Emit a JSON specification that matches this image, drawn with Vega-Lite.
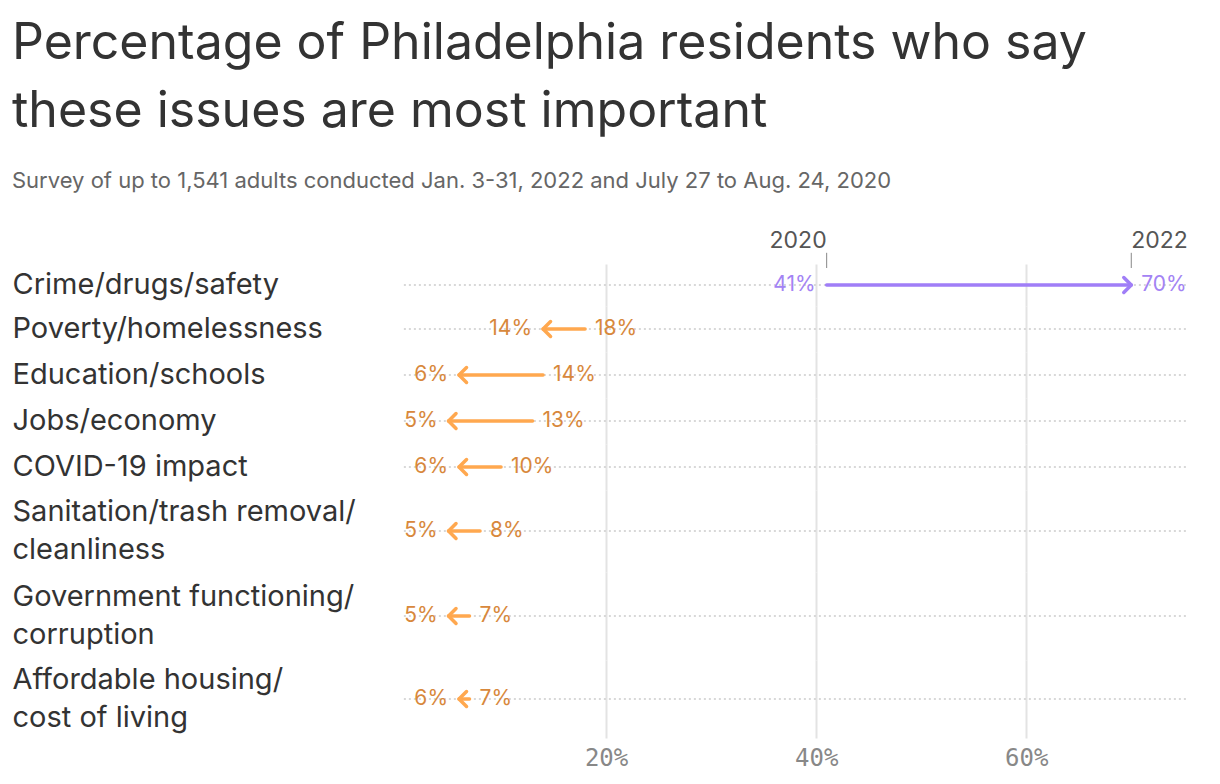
{
  "$schema": "https://vega.github.io/schema/vega-lite/v6.json",
  "padding": {"left": 12, "top": 19, "right": 20, "bottom": 4},
  "title": {
    "text": ["Percentage of Philadelphia residents who say", "these issues are most important"],
    "subtitle": "Survey of up to 1,541 adults conducted Jan. 3-31, 2022 and July 27 to Aug. 24, 2020",
    "anchor": "start",
    "font": "Inter",
    "fontSize": 50,
    "fontWeight": "normal",
    "color": "#333333",
    "lineHeight": 68,
    "subtitleFont": "Inter",
    "subtitleFontSize": 22,
    "subtitleColor": "#666666",
    "subtitlePadding": 34,
    "offset": 32
  },
  "data": {
    "values": [
      {"issue": "Crime/drugs/safety", "y2020": 41, "y2022": 70},
      {"issue": "Poverty/homelessness", "y2020": 18, "y2022": 14},
      {"issue": "Education/schools", "y2020": 14, "y2022": 6},
      {"issue": "Jobs/economy", "y2020": 13, "y2022": 5},
      {"issue": "COVID-19 impact", "y2020": 10, "y2022": 6},
      {"issue": "Sanitation/trash removal/cleanliness", "y2020": 8, "y2022": 5},
      {"issue": "Government functioning/corruption", "y2020": 7, "y2022": 5},
      {"issue": "Affordable housing/cost of living", "y2020": 7, "y2022": 6}
    ]
  },
  "spacing": 0,
  "bounds": "flush",
  "vconcat": [
    {
      "height": 40,
      "transform": [{"filter": "datum.issue == 'Crime/drugs/safety'"}],
      "layer": [
        {
          "mark": {"type": "text", "align": "right", "color": "#555555", "fontSize": 23},
          "encoding": {
            "x": {"field": "y2020", "type": "quantitative", "scale": {"domain": [0, 75.4], "nice": false, "zero": false}, "axis": null},
            "y": {"datum": 0.575, "type": "quantitative", "scale": {"domain": [0, 1]}, "axis": null},
            "text": {"value": "2020"}
          }
        },
        {
          "mark": {"type": "text", "align": "left", "color": "#555555", "fontSize": 23},
          "encoding": {
            "x": {"field": "y2022", "type": "quantitative", "axis": null},
            "y": {"datum": 0.575, "type": "quantitative", "axis": null},
            "text": {"value": "2022"}
          }
        },
        {
          "transform": [{"fold": ["y2020", "y2022"], "as": ["year", "pct"]}],
          "mark": {"type": "rule", "color": "#888888", "strokeWidth": 1},
          "encoding": {
            "x": {"field": "pct", "type": "quantitative", "axis": null},
            "y": {"datum": 0.28, "type": "quantitative", "axis": null},
            "y2": {"datum": -0.1}
          }
        }
      ]
    },
    {
      "height": 42,
      "transform": [{"filter": "datum.issue == 'Crime/drugs/safety'"}],
      "encoding": {"y": {"field": "issue", "type": "nominal"}},
      "layer": [
        {"mark": {"type": "rule", "color": "#cccccc", "strokeDash": [2, 3], "strokeWidth": 1.5},
         "encoding": {"x": {"datum": 0.75, "type": "quantitative", "scale": {"domain": [0, 75.4], "nice": false, "zero": false}, "axis": {"values": [20, 40, 60]}}, "x2": {"datum": 75.4}}},
        {"mark": {"type": "rule", "strokeWidth": 3.5, "strokeCap": "round"},
         "encoding": {"x": {"field": "y2020", "type": "quantitative"}, "x2": {"field": "y2022"},
           "color": {"condition": {"test": "datum.y2022 > datum.y2020", "value": "#a07ef7"}, "value": "#ffa84f"}}},
        {"mark": {"type": "point"},
         "encoding": {"x": {"field": "y2022", "type": "quantitative"},
           "angle": {"condition": {"test": "datum.y2022 < datum.y2020", "value": 180}, "value": 0},
           "color": {"condition": {"test": "datum.y2022 > datum.y2020", "value": "#a07ef7"}, "value": "#ffa84f"}}},
        {"transform": [{"fold": ["y2020", "y2022"], "as": ["year", "pct"]}, {"filter": "(datum.year == 'y2020') == (datum.y2022 < datum.y2020)"}, {"calculate": "datum.pct + '%'", "as": "label"}],
         "mark": {"type": "text", "align": "left", "dx": 10},
         "encoding": {"x": {"field": "pct", "type": "quantitative"}, "text": {"field": "label"},
           "color": {"condition": {"test": "datum.y2022 > datum.y2020", "value": "#a383f4"}, "value": "#d8883c"}}},
        {"transform": [{"fold": ["y2020", "y2022"], "as": ["year", "pct"]}, {"filter": "(datum.year == 'y2020') != (datum.y2022 < datum.y2020)"}, {"calculate": "datum.pct + '%'", "as": "label"}],
         "mark": {"type": "text", "align": "right", "dx": -11},
         "encoding": {"x": {"field": "pct", "type": "quantitative"}, "text": {"field": "label"},
           "color": {"condition": {"test": "datum.y2022 > datum.y2020", "value": "#a383f4"}, "value": "#d8883c"}}}
      ]
    },
    {
      "height": 46,
      "transform": [{"filter": "datum.issue == 'Poverty/homelessness'"}],
      "encoding": {"y": {"field": "issue", "type": "nominal"}},
      "layer": [
        {"mark": {"type": "rule", "color": "#cccccc", "strokeDash": [2, 3], "strokeWidth": 1.5},
         "encoding": {"x": {"datum": 0.75, "type": "quantitative", "scale": {"domain": [0, 75.4], "nice": false, "zero": false}, "axis": {"values": [20, 40, 60]}}, "x2": {"datum": 75.4}}},
        {"mark": {"type": "rule", "strokeWidth": 3.5, "strokeCap": "round"},
         "encoding": {"x": {"field": "y2020", "type": "quantitative"}, "x2": {"field": "y2022"},
           "color": {"condition": {"test": "datum.y2022 > datum.y2020", "value": "#a07ef7"}, "value": "#ffa84f"}}},
        {"mark": {"type": "point"},
         "encoding": {"x": {"field": "y2022", "type": "quantitative"},
           "angle": {"condition": {"test": "datum.y2022 < datum.y2020", "value": 180}, "value": 0},
           "color": {"condition": {"test": "datum.y2022 > datum.y2020", "value": "#a07ef7"}, "value": "#ffa84f"}}},
        {"transform": [{"fold": ["y2020", "y2022"], "as": ["year", "pct"]}, {"filter": "(datum.year == 'y2020') == (datum.y2022 < datum.y2020)"}, {"calculate": "datum.pct + '%'", "as": "label"}],
         "mark": {"type": "text", "align": "left", "dx": 10},
         "encoding": {"x": {"field": "pct", "type": "quantitative"}, "text": {"field": "label"},
           "color": {"condition": {"test": "datum.y2022 > datum.y2020", "value": "#a383f4"}, "value": "#d8883c"}}},
        {"transform": [{"fold": ["y2020", "y2022"], "as": ["year", "pct"]}, {"filter": "(datum.year == 'y2020') != (datum.y2022 < datum.y2020)"}, {"calculate": "datum.pct + '%'", "as": "label"}],
         "mark": {"type": "text", "align": "right", "dx": -11},
         "encoding": {"x": {"field": "pct", "type": "quantitative"}, "text": {"field": "label"},
           "color": {"condition": {"test": "datum.y2022 > datum.y2020", "value": "#a383f4"}, "value": "#d8883c"}}}
      ]
    },
    {
      "height": 46,
      "transform": [{"filter": "datum.issue == 'Education/schools'"}],
      "encoding": {"y": {"field": "issue", "type": "nominal"}},
      "layer": [
        {"mark": {"type": "rule", "color": "#cccccc", "strokeDash": [2, 3], "strokeWidth": 1.5},
         "encoding": {"x": {"datum": 0.75, "type": "quantitative", "scale": {"domain": [0, 75.4], "nice": false, "zero": false}, "axis": {"values": [20, 40, 60]}}, "x2": {"datum": 75.4}}},
        {"mark": {"type": "rule", "strokeWidth": 3.5, "strokeCap": "round"},
         "encoding": {"x": {"field": "y2020", "type": "quantitative"}, "x2": {"field": "y2022"},
           "color": {"condition": {"test": "datum.y2022 > datum.y2020", "value": "#a07ef7"}, "value": "#ffa84f"}}},
        {"mark": {"type": "point"},
         "encoding": {"x": {"field": "y2022", "type": "quantitative"},
           "angle": {"condition": {"test": "datum.y2022 < datum.y2020", "value": 180}, "value": 0},
           "color": {"condition": {"test": "datum.y2022 > datum.y2020", "value": "#a07ef7"}, "value": "#ffa84f"}}},
        {"transform": [{"fold": ["y2020", "y2022"], "as": ["year", "pct"]}, {"filter": "(datum.year == 'y2020') == (datum.y2022 < datum.y2020)"}, {"calculate": "datum.pct + '%'", "as": "label"}],
         "mark": {"type": "text", "align": "left", "dx": 10},
         "encoding": {"x": {"field": "pct", "type": "quantitative"}, "text": {"field": "label"},
           "color": {"condition": {"test": "datum.y2022 > datum.y2020", "value": "#a383f4"}, "value": "#d8883c"}}},
        {"transform": [{"fold": ["y2020", "y2022"], "as": ["year", "pct"]}, {"filter": "(datum.year == 'y2020') != (datum.y2022 < datum.y2020)"}, {"calculate": "datum.pct + '%'", "as": "label"}],
         "mark": {"type": "text", "align": "right", "dx": -11},
         "encoding": {"x": {"field": "pct", "type": "quantitative"}, "text": {"field": "label"},
           "color": {"condition": {"test": "datum.y2022 > datum.y2020", "value": "#a383f4"}, "value": "#d8883c"}}}
      ]
    },
    {
      "height": 46,
      "transform": [{"filter": "datum.issue == 'Jobs/economy'"}],
      "encoding": {"y": {"field": "issue", "type": "nominal"}},
      "layer": [
        {"mark": {"type": "rule", "color": "#cccccc", "strokeDash": [2, 3], "strokeWidth": 1.5},
         "encoding": {"x": {"datum": 0.75, "type": "quantitative", "scale": {"domain": [0, 75.4], "nice": false, "zero": false}, "axis": {"values": [20, 40, 60]}}, "x2": {"datum": 75.4}}},
        {"mark": {"type": "rule", "strokeWidth": 3.5, "strokeCap": "round"},
         "encoding": {"x": {"field": "y2020", "type": "quantitative"}, "x2": {"field": "y2022"},
           "color": {"condition": {"test": "datum.y2022 > datum.y2020", "value": "#a07ef7"}, "value": "#ffa84f"}}},
        {"mark": {"type": "point"},
         "encoding": {"x": {"field": "y2022", "type": "quantitative"},
           "angle": {"condition": {"test": "datum.y2022 < datum.y2020", "value": 180}, "value": 0},
           "color": {"condition": {"test": "datum.y2022 > datum.y2020", "value": "#a07ef7"}, "value": "#ffa84f"}}},
        {"transform": [{"fold": ["y2020", "y2022"], "as": ["year", "pct"]}, {"filter": "(datum.year == 'y2020') == (datum.y2022 < datum.y2020)"}, {"calculate": "datum.pct + '%'", "as": "label"}],
         "mark": {"type": "text", "align": "left", "dx": 10},
         "encoding": {"x": {"field": "pct", "type": "quantitative"}, "text": {"field": "label"},
           "color": {"condition": {"test": "datum.y2022 > datum.y2020", "value": "#a383f4"}, "value": "#d8883c"}}},
        {"transform": [{"fold": ["y2020", "y2022"], "as": ["year", "pct"]}, {"filter": "(datum.year == 'y2020') != (datum.y2022 < datum.y2020)"}, {"calculate": "datum.pct + '%'", "as": "label"}],
         "mark": {"type": "text", "align": "right", "dx": -11},
         "encoding": {"x": {"field": "pct", "type": "quantitative"}, "text": {"field": "label"},
           "color": {"condition": {"test": "datum.y2022 > datum.y2020", "value": "#a383f4"}, "value": "#d8883c"}}}
      ]
    },
    {
      "height": 46,
      "transform": [{"filter": "datum.issue == 'COVID-19 impact'"}],
      "encoding": {"y": {"field": "issue", "type": "nominal"}},
      "layer": [
        {"mark": {"type": "rule", "color": "#cccccc", "strokeDash": [2, 3], "strokeWidth": 1.5},
         "encoding": {"x": {"datum": 0.75, "type": "quantitative", "scale": {"domain": [0, 75.4], "nice": false, "zero": false}, "axis": {"values": [20, 40, 60]}}, "x2": {"datum": 75.4}}},
        {"mark": {"type": "rule", "strokeWidth": 3.5, "strokeCap": "round"},
         "encoding": {"x": {"field": "y2020", "type": "quantitative"}, "x2": {"field": "y2022"},
           "color": {"condition": {"test": "datum.y2022 > datum.y2020", "value": "#a07ef7"}, "value": "#ffa84f"}}},
        {"mark": {"type": "point"},
         "encoding": {"x": {"field": "y2022", "type": "quantitative"},
           "angle": {"condition": {"test": "datum.y2022 < datum.y2020", "value": 180}, "value": 0},
           "color": {"condition": {"test": "datum.y2022 > datum.y2020", "value": "#a07ef7"}, "value": "#ffa84f"}}},
        {"transform": [{"fold": ["y2020", "y2022"], "as": ["year", "pct"]}, {"filter": "(datum.year == 'y2020') == (datum.y2022 < datum.y2020)"}, {"calculate": "datum.pct + '%'", "as": "label"}],
         "mark": {"type": "text", "align": "left", "dx": 10},
         "encoding": {"x": {"field": "pct", "type": "quantitative"}, "text": {"field": "label"},
           "color": {"condition": {"test": "datum.y2022 > datum.y2020", "value": "#a383f4"}, "value": "#d8883c"}}},
        {"transform": [{"fold": ["y2020", "y2022"], "as": ["year", "pct"]}, {"filter": "(datum.year == 'y2020') != (datum.y2022 < datum.y2020)"}, {"calculate": "datum.pct + '%'", "as": "label"}],
         "mark": {"type": "text", "align": "right", "dx": -11},
         "encoding": {"x": {"field": "pct", "type": "quantitative"}, "text": {"field": "label"},
           "color": {"condition": {"test": "datum.y2022 > datum.y2020", "value": "#a383f4"}, "value": "#d8883c"}}}
      ]
    },
    {
      "height": 82,
      "transform": [{"filter": "datum.issue == 'Sanitation/trash removal/cleanliness'"}],
      "encoding": {"y": {"field": "issue", "type": "nominal", "axis": {"labelExpr": "['Sanitation/trash removal/', 'cleanliness']", "labelOffset": -19}}},
      "layer": [
        {"mark": {"type": "rule", "color": "#cccccc", "strokeDash": [2, 3], "strokeWidth": 1.5},
         "encoding": {"x": {"datum": 0.75, "type": "quantitative", "scale": {"domain": [0, 75.4], "nice": false, "zero": false}, "axis": {"values": [20, 40, 60]}}, "x2": {"datum": 75.4}}},
        {"mark": {"type": "rule", "strokeWidth": 3.5, "strokeCap": "round"},
         "encoding": {"x": {"field": "y2020", "type": "quantitative"}, "x2": {"field": "y2022"},
           "color": {"condition": {"test": "datum.y2022 > datum.y2020", "value": "#a07ef7"}, "value": "#ffa84f"}}},
        {"mark": {"type": "point"},
         "encoding": {"x": {"field": "y2022", "type": "quantitative"},
           "angle": {"condition": {"test": "datum.y2022 < datum.y2020", "value": 180}, "value": 0},
           "color": {"condition": {"test": "datum.y2022 > datum.y2020", "value": "#a07ef7"}, "value": "#ffa84f"}}},
        {"transform": [{"fold": ["y2020", "y2022"], "as": ["year", "pct"]}, {"filter": "(datum.year == 'y2020') == (datum.y2022 < datum.y2020)"}, {"calculate": "datum.pct + '%'", "as": "label"}],
         "mark": {"type": "text", "align": "left", "dx": 10},
         "encoding": {"x": {"field": "pct", "type": "quantitative"}, "text": {"field": "label"},
           "color": {"condition": {"test": "datum.y2022 > datum.y2020", "value": "#a383f4"}, "value": "#d8883c"}}},
        {"transform": [{"fold": ["y2020", "y2022"], "as": ["year", "pct"]}, {"filter": "(datum.year == 'y2020') != (datum.y2022 < datum.y2020)"}, {"calculate": "datum.pct + '%'", "as": "label"}],
         "mark": {"type": "text", "align": "right", "dx": -11},
         "encoding": {"x": {"field": "pct", "type": "quantitative"}, "text": {"field": "label"},
           "color": {"condition": {"test": "datum.y2022 > datum.y2020", "value": "#a383f4"}, "value": "#d8883c"}}}
      ]
    },
    {
      "height": 88,
      "transform": [{"filter": "datum.issue == 'Government functioning/corruption'"}],
      "encoding": {"y": {"field": "issue", "type": "nominal", "axis": {"labelExpr": "['Government functioning/', 'corruption']", "labelOffset": -19}}},
      "layer": [
        {"mark": {"type": "rule", "color": "#cccccc", "strokeDash": [2, 3], "strokeWidth": 1.5},
         "encoding": {"x": {"datum": 0.75, "type": "quantitative", "scale": {"domain": [0, 75.4], "nice": false, "zero": false}, "axis": {"values": [20, 40, 60]}}, "x2": {"datum": 75.4}}},
        {"mark": {"type": "rule", "strokeWidth": 3.5, "strokeCap": "round"},
         "encoding": {"x": {"field": "y2020", "type": "quantitative"}, "x2": {"field": "y2022"},
           "color": {"condition": {"test": "datum.y2022 > datum.y2020", "value": "#a07ef7"}, "value": "#ffa84f"}}},
        {"mark": {"type": "point"},
         "encoding": {"x": {"field": "y2022", "type": "quantitative"},
           "angle": {"condition": {"test": "datum.y2022 < datum.y2020", "value": 180}, "value": 0},
           "color": {"condition": {"test": "datum.y2022 > datum.y2020", "value": "#a07ef7"}, "value": "#ffa84f"}}},
        {"transform": [{"fold": ["y2020", "y2022"], "as": ["year", "pct"]}, {"filter": "(datum.year == 'y2020') == (datum.y2022 < datum.y2020)"}, {"calculate": "datum.pct + '%'", "as": "label"}],
         "mark": {"type": "text", "align": "left", "dx": 10},
         "encoding": {"x": {"field": "pct", "type": "quantitative"}, "text": {"field": "label"},
           "color": {"condition": {"test": "datum.y2022 > datum.y2020", "value": "#a383f4"}, "value": "#d8883c"}}},
        {"transform": [{"fold": ["y2020", "y2022"], "as": ["year", "pct"]}, {"filter": "(datum.year == 'y2020') != (datum.y2022 < datum.y2020)"}, {"calculate": "datum.pct + '%'", "as": "label"}],
         "mark": {"type": "text", "align": "right", "dx": -11},
         "encoding": {"x": {"field": "pct", "type": "quantitative"}, "text": {"field": "label"},
           "color": {"condition": {"test": "datum.y2022 > datum.y2020", "value": "#a383f4"}, "value": "#d8883c"}}}
      ]
    },
    {
      "height": 78,
      "transform": [{"filter": "datum.issue == 'Affordable housing/cost of living'"}],
      "encoding": {"y": {"field": "issue", "type": "nominal", "axis": {"labelExpr": "['Affordable housing/', 'cost of living']", "labelOffset": -19}}},
      "layer": [
        {"mark": {"type": "rule", "color": "#cccccc", "strokeDash": [2, 3], "strokeWidth": 1.5},
         "encoding": {"x": {"datum": 0.75, "type": "quantitative", "scale": {"domain": [0, 75.4], "nice": false, "zero": false},
           "axis": {"values": [20, 40, 60], "labels": true, "labelExpr": "datum.value + '%'", "labelFont": "DejaVu Sans Mono", "labelFontSize": 24, "labelColor": "#888888", "labelPadding": 8}},
           "x2": {"datum": 75.4}}},
        {"mark": {"type": "rule", "strokeWidth": 3.5, "strokeCap": "round"},
         "encoding": {"x": {"field": "y2020", "type": "quantitative"}, "x2": {"field": "y2022"},
           "color": {"condition": {"test": "datum.y2022 > datum.y2020", "value": "#a07ef7"}, "value": "#ffa84f"}}},
        {"mark": {"type": "point"},
         "encoding": {"x": {"field": "y2022", "type": "quantitative"},
           "angle": {"condition": {"test": "datum.y2022 < datum.y2020", "value": 180}, "value": 0},
           "color": {"condition": {"test": "datum.y2022 > datum.y2020", "value": "#a07ef7"}, "value": "#ffa84f"}}},
        {"transform": [{"fold": ["y2020", "y2022"], "as": ["year", "pct"]}, {"filter": "(datum.year == 'y2020') == (datum.y2022 < datum.y2020)"}, {"calculate": "datum.pct + '%'", "as": "label"}],
         "mark": {"type": "text", "align": "left", "dx": 10},
         "encoding": {"x": {"field": "pct", "type": "quantitative"}, "text": {"field": "label"},
           "color": {"condition": {"test": "datum.y2022 > datum.y2020", "value": "#a383f4"}, "value": "#d8883c"}}},
        {"transform": [{"fold": ["y2020", "y2022"], "as": ["year", "pct"]}, {"filter": "(datum.year == 'y2020') != (datum.y2022 < datum.y2020)"}, {"calculate": "datum.pct + '%'", "as": "label"}],
         "mark": {"type": "text", "align": "right", "dx": -11},
         "encoding": {"x": {"field": "pct", "type": "quantitative"}, "text": {"field": "label"},
           "color": {"condition": {"test": "datum.y2022 > datum.y2020", "value": "#a383f4"}, "value": "#d8883c"}}}
      ]
    }
  ],
  "config": {
    "view": {"continuousWidth": 792, "stroke": null},
    "font": "Inter",
    "text": {"font": "Inter", "fontSize": 21, "baseline": "middle"},
    "point": {"filled": false, "shape": "M -1 -1 L 0 0 L -1 1", "size": 225, "strokeWidth": 3.5, "strokeCap": "round", "strokeJoin": "round", "opacity": 1},
    "axisX": {"labels": false, "ticks": false, "domain": false, "grid": true, "gridColor": "#e3e3e3", "gridWidth": 2, "title": null},
    "axisY": {"title": null, "ticks": false, "tickSize": 0, "domain": false, "grid": false, "labelAlign": "left", "labelPadding": 384, "labelLimit": 400, "labelFont": "Inter", "labelFontSize": 29, "labelColor": "#333333", "labelLineHeight": 38, "labelBaseline": "middle"}
  }
}
